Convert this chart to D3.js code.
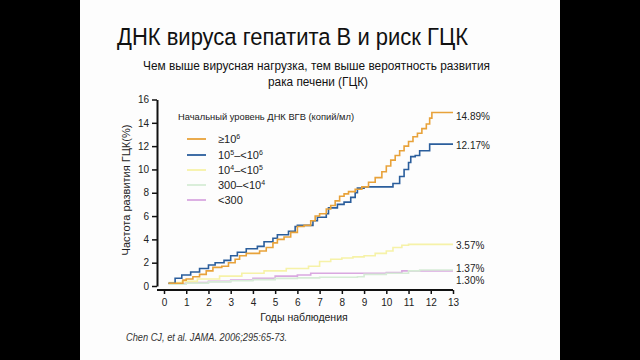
<!DOCTYPE html>
<html><head><meta charset="utf-8">
<script src="https://cdn.jsdelivr.net/npm/d3@7"></script>
<style>body{margin:0;background:#000;}svg{display:block;}</style>
</head><body>
<svg id="c" width="640" height="360"></svg>
<script>
const xTicks = d3.range(0, 14);
const yTicks = d3.range(0, 17, 2);
const seriesNames = ["≥10^6", "10^5–<10^6", "10^4–<10^5", "300–<10^4", "<300"];
const endLabels = ["14.89%", "12.17%", "3.57%", "1.37%", "1.30%"];
const s1 = [[0.2,0.23],[0.85,0.5],[1.0,0.6],[1.3,0.8],[1.6,1.0],[1.9,1.3],[2.2,1.6],[2.6,1.7],[2.9,2.0],[3.2,2.3],[3.4,2.6],[3.7,2.8],[4.3,3.0],[4.6,3.3],[4.9,3.7],[5.1,4.0],[5.4,4.2],[5.7,4.6],[6.0,5.1],[6.3,5.2],[6.6,5.6],[6.8,6.0],[7.0,6.2],[7.3,6.6],[7.5,6.9],[7.7,7.3],[7.9,7.7],[8.1,7.9],[8.3,8.1],[8.6,8.3],[8.9,8.5],[9.2,8.9],[9.5,9.3],[9.8,9.8],[10.0,10.3],[10.2,10.8],[10.4,11.2],[10.6,11.6],[10.8,12.0],[11.0,12.4],[11.2,12.8],[11.4,13.1],[11.6,13.5],[11.8,13.9],[11.95,14.4],[12.05,14.89],[13,14.89]];
const s2 = [[0.2,0.23],[0.5,0.66],[0.8,0.94],[1.2,1.2],[1.6,1.5],[2.0,1.8],[2.3,2.0],[2.7,2.2],[3.0,2.6],[3.3,2.9],[3.7,3.2],[4.2,3.4],[4.5,3.8],[4.9,4.1],[5.1,4.4],[5.6,4.7],[5.9,5.1],[6.0,5.2],[6.7,5.6],[6.9,5.9],[7.3,6.2],[7.4,6.7],[7.8,7.0],[8.1,7.2],[8.4,7.6],[8.6,8.0],[8.7,8.4],[9.0,8.5],[10.3,8.8],[10.6,9.4],[10.8,10.0],[11.0,10.6],[11.1,11.1],[11.3,11.2],[11.5,11.6],[11.95,12.17],[13,12.17]];
const s3 = [[0.2,0.3],[0.8,0.4],[1.5,0.6],[2.5,0.85],[3.5,1.1],[4.5,1.3],[5.5,1.5],[6.5,1.7],[7.0,2.1],[7.5,2.3],[8.0,2.4],[8.5,2.5],[9.0,2.6],[9.5,2.8],[10.0,3.0],[10.3,3.3],[10.7,3.5],[11.0,3.57],[13,3.57]];
const s4 = [[0.2,0.15],[1,0.25],[2,0.35],[3,0.45],[4,0.55],[5,0.65],[6,0.7],[7,0.75],[8.7,0.8],[9,1.0],[10,1.1],[11,1.3],[11.5,1.37],[13,1.37]];
const s5 = [[0.2,0.2],[1,0.3],[2,0.4],[3,0.5],[4,0.65],[5,0.85],[6,0.95],[6.6,1.1],[9,1.1],[10,1.15],[10.7,1.3],[13,1.3]];
const seriesData = [s1, s2, s3, s4, s5];
const colors = ["#e8a23a", "#2b5e9c", "#f6f2a8", "#d6ecd6", "#d9a8e0"];

const svg = d3.select("#c");
svg.append("rect").attr("x",80).attr("y",0).attr("width",480).attr("height",360).attr("fill","#fdfdfd");
const F = "Liberation Sans, Arial, sans-serif";
svg.append("text").attr("x",117).attr("y",45).attr("font-family",F).attr("font-size",24.5).attr("fill","#111")
  .attr("textLength",351).attr("lengthAdjust","spacingAndGlyphs").text("ДНК вируса гепатита В и риск ГЦК");
svg.append("text").attr("x",143).attr("y",70).attr("font-family",F).attr("font-size",12.5).attr("fill","#111")
  .attr("textLength",347).attr("lengthAdjust","spacingAndGlyphs").text("Чем выше вирусная нагрузка, тем выше вероятность развития");
svg.append("text").attr("x",268).attr("y",86).attr("font-family",F).attr("font-size",12.5).attr("fill","#111")
  .attr("textLength",100).attr("lengthAdjust","spacingAndGlyphs").text("рака печени (ГЦК)");

const x = d3.scaleLinear().domain([0,13]).range([164,453]);
const y = d3.scaleLinear().domain([0,16]).range([286,99.5]);

const gy = svg.append("g").attr("transform","translate(157,0)").call(d3.axisLeft(y).tickValues(yTicks).tickSize(5).tickSizeOuter(0).tickPadding(3));
const gx = svg.append("g").attr("transform","translate(0,290)").call(d3.axisBottom(x).tickValues(xTicks).tickSize(4).tickSizeOuter(0).tickPadding(5));
[gy,gx].forEach(g=>{
  g.selectAll("text").attr("font-family",F).attr("font-size",10).attr("fill","#222");
  g.selectAll("line").attr("stroke","#111").attr("stroke-width",1.5);
  g.select(".domain").attr("stroke","#111").attr("stroke-width",2);
});
gx.select(".domain").attr("d","M157,0H453");

svg.append("text").attr("transform","translate(130,190) rotate(-90)").attr("text-anchor","middle").attr("font-family",F).attr("font-size",11).attr("fill","#222").text("Частота развития ГЦК(%)");
svg.append("text").attr("x",304).attr("y",321).attr("text-anchor","middle").attr("font-family",F).attr("font-size",10.5).attr("fill","#222").text("Годы наблюдения");
svg.append("text").attr("x",126).attr("y",341).attr("font-family",F).attr("font-style","italic").attr("font-size",10).attr("fill","#333")
  .attr("textLength",161).attr("lengthAdjust","spacingAndGlyphs").text("Chen CJ, et al. JAMA. 2006;295:65-73.");

const line = d3.line().x(d=>x(d[0])).y(d=>y(d[1])).curve(d3.curveStepAfter);
const order = [4,3,2,1,0];
order.forEach(i=>{
  svg.append("path").datum(seriesData[i]).attr("d",line).attr("fill","none").attr("stroke",colors[i]).attr("stroke-width",1.6);
});

const labelY = [116, 145, 245, 268, 280];
endLabels.forEach((t,i)=>{
  svg.append("text").attr("x",456).attr("y",labelY[i]+4).attr("font-family",F).attr("font-size",10).attr("fill","#222").text(t);
});

svg.append("text").attr("x",178).attr("y",120).attr("font-family",F).attr("font-size",9.5).attr("fill","#222")
  .attr("textLength",176).attr("lengthAdjust","spacingAndGlyphs").text("Начальный уровень ДНК ВГВ (копий/мл)");
const legY = [139, 155, 170, 185, 200];
seriesNames.forEach((n,i)=>{
  svg.append("line").attr("x1",187).attr("x2",206).attr("y1",legY[i]).attr("y2",legY[i]).attr("stroke",colors[i]).attr("stroke-width",1.8);
  const t = svg.append("text").attr("x",218).attr("y",legY[i]+4).attr("font-family",F).attr("font-size",11).attr("fill","#222");
  const parts = n.split(/(\^\d)/);
  let sup=false;
  parts.forEach(p=>{
    if(!p) return;
    if(p.startsWith("^")){ t.append("tspan").attr("font-size",7).attr("dy",-4).text(p.slice(1)); sup=true; }
    else { const ts=t.append("tspan").text(p); if(sup){ts.attr("dy",4); sup=false;} }
  });
});
</script>
</body></html>
